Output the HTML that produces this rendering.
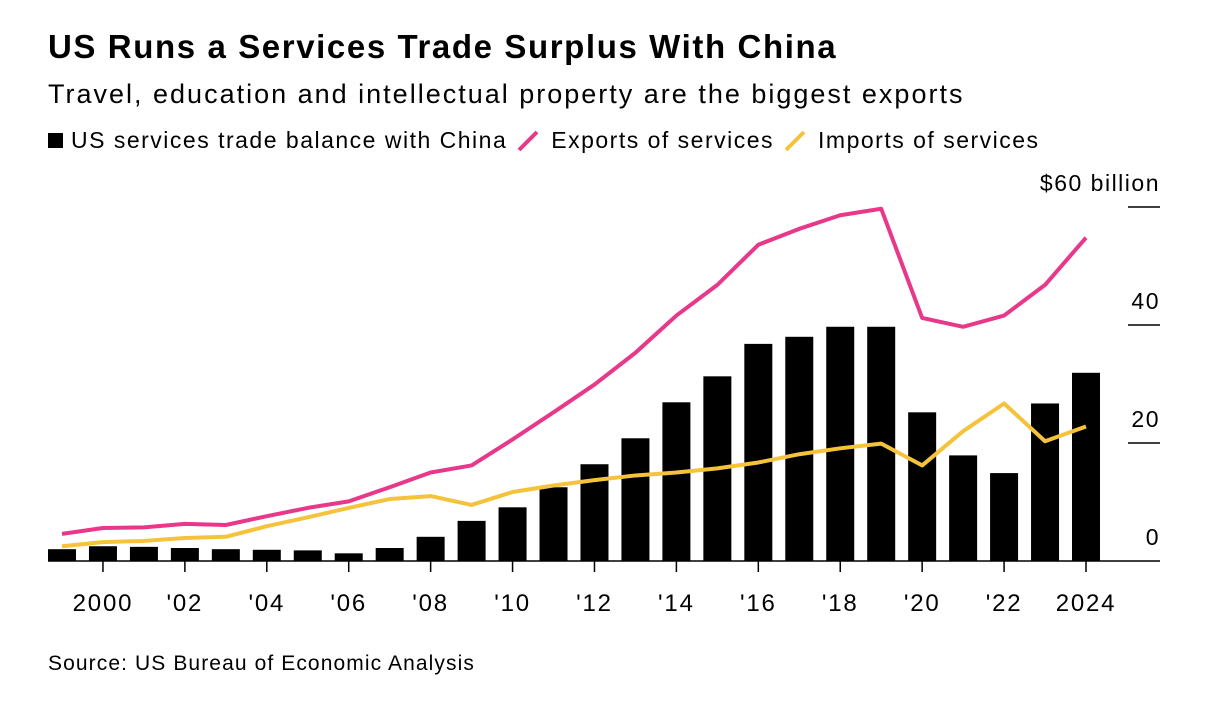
<!DOCTYPE html>
<html><head><meta charset="utf-8"><style>
body{margin:0;background:#fff;width:1208px;height:704px;overflow:hidden;font-family:"Liberation Sans",sans-serif;color:#000}
.t{position:absolute;left:48px;white-space:nowrap}
</style></head><body>
<div class="t" style="top:28px;font-size:33px;font-weight:bold;letter-spacing:1.6px">US Runs a Services Trade Surplus With China</div>
<div class="t" style="top:79px;font-size:27px;letter-spacing:2px">Travel, education and intellectual property are the biggest exports</div>
<div class="t" style="top:127px;font-size:23px;letter-spacing:1.5px;display:flex;align-items:center">
<span style="display:flex;align-items:center"><span style="width:15px;height:15px;background:#000;display:inline-block;margin-right:8px"></span>US services trade balance with China</span>
<span style="display:flex;align-items:center;margin-left:10px"><svg width="22" height="22" style="margin-right:12px"><line x1="2" y1="20" x2="20" y2="2" stroke="#e8388a" stroke-width="4"/></svg>Exports of services</span>
<span style="display:flex;align-items:center;margin-left:10px"><svg width="22" height="22" style="margin-right:12px"><line x1="2" y1="20" x2="20" y2="2" stroke="#f5c33b" stroke-width="4"/></svg>Imports of services</span>
</div>
<svg id="chart" width="1208" height="704" style="position:absolute;left:0;top:0"></svg>
<div class="t" style="top:652px;font-size:21px;letter-spacing:1.1px">Source: US Bureau of Economic Analysis</div>
<script>
const years=[1999,2000,2001,2002,2003,2004,2005,2006,2007,2008,2009,2010,2011,2012,2013,2014,2015,2016,2017,2018,2019,2020,2021,2022,2023,2024];
const balance=[2.0,2.5,2.4,2.2,2.0,1.9,1.8,1.3,2.2,4.1,6.8,9.1,12.5,16.4,20.8,26.9,31.3,36.8,38.0,39.7,39.7,25.2,17.9,14.9,26.7,31.9];
const exportsS=[4.6,5.6,5.7,6.3,6.1,7.6,9.0,10.1,12.5,15.0,16.2,20.6,25.2,29.9,35.3,41.6,46.8,53.6,56.3,58.6,59.7,41.2,39.7,41.6,46.8,54.8];
const importsS=[2.5,3.2,3.4,3.9,4.1,5.9,7.4,9.0,10.5,11.0,9.5,11.7,12.8,13.7,14.5,15.0,15.7,16.7,18.1,19.1,19.9,16.2,22.0,26.7,20.3,22.8];
const yTicks=[0,20,40,60];
const yTickLabels=["0","20","40","$60 billion"];
const xTickYears=[2000,2002,2004,2006,2008,2010,2012,2014,2016,2018,2020,2022,2024];
const xTickLabels=["2000","'02","'04","'06","'08","'10","'12","'14","'16","'18","'20","'22","2024"];
const NS="http://www.w3.org/2000/svg",svg=document.getElementById('chart');
const x=y=>62+(y-1999)*40.96, yv=v=>561-v*5.9;
function mk(t,a,p){const e=document.createElementNS(NS,t);for(const k in a)e.setAttribute(k,a[k]);(p||svg).appendChild(e);return e;}
yTicks.forEach((v,i)=>{
 if(v>0){const g=mk('line',{x1:1128,x2:1160,y1:yv(v),y2:yv(v),stroke:'#000','stroke-width':1.5});
 
 }
 const t=mk('text',{x:1160,y:yv(v)-16,'text-anchor':'end','font-size':23,'letter-spacing':1.5});t.textContent=yTickLabels[i];
 
 
});
years.forEach((y,i)=>{const r=mk('rect',{x:x(y)-14,y:yv(balance[i]),width:28,height:561-yv(balance[i]),fill:'#000'});
 
 });
const ax=mk('line',{x1:48,x2:1160,y1:561,y2:561,stroke:'#000','stroke-width':1.5});


xTickYears.forEach((y,i)=>{mk('line',{x1:x(y),x2:x(y),y1:561,y2:572,stroke:'#000','stroke-width':1.5});
 const t=mk('text',{x:x(y),y:611,'text-anchor':'middle','font-size':24,'letter-spacing':1.8});t.textContent=xTickLabels[i];
 
 });
function line(d,c,n){const p=mk('polyline',{points:years.map((y,i)=>x(y)+','+yv(d[i])).join(' '),fill:'none',stroke:c,'stroke-width':4,'stroke-linejoin':'round'});
 
 }
line(importsS,'#f5c33b','imports-line');
line(exportsS,'#e8388a','exports-line');
</script>
</body></html>
